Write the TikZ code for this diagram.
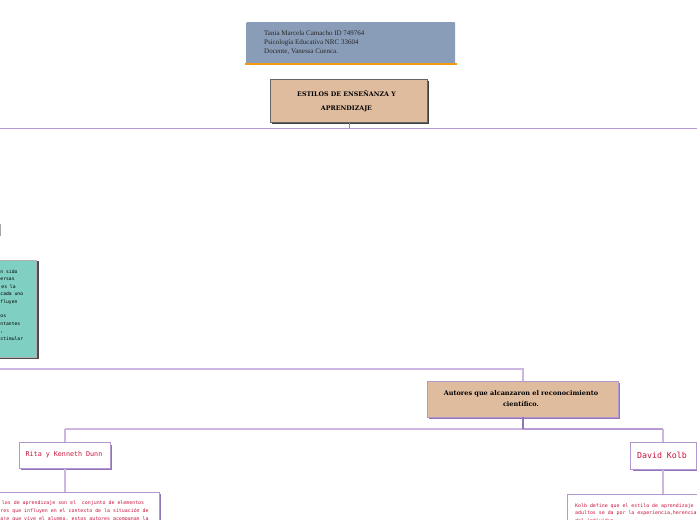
\documentclass[tikz,border=0pt]{standalone}
\usepackage{fontspec}
\setmainfont{Liberation Serif}
\setmonofont{DejaVu Sans Mono}
\newfontfamily\slab{DejaVu Serif}
\definecolor{hdrblue}{HTML}{8A9DB8}
\definecolor{hdrorange}{HTML}{F59B12}
\definecolor{tan}{HTML}{E0BC9F}
\definecolor{teal}{HTML}{7FCFC2}
\definecolor{linkp}{HTML}{B79AD2}
\definecolor{linkl}{HTML}{CDB6E0}
\definecolor{boxp}{HTML}{B297D0}
\definecolor{shadp}{HTML}{9274B8}
\definecolor{redtx}{HTML}{C8143C}
\tikzset{
  px/.style={x=1pt,y=-1pt},
  tanbox/.style={draw=#1,line width=.8pt,fill=tan,inner sep=0pt,anchor=north west},
  whitebox/.style={draw=boxp,line width=1pt,fill=white,inner sep=0pt,anchor=north west},
  link/.style={draw=linkp,line width=.8pt},
  linkpale/.style={draw=linkl,line width=1.1pt},
  monotx/.style={font=\ttfamily\fontsize{4.92}{7.6}\selectfont,align=left,inner sep=0pt,anchor=north west},
}
\begin{document}
\begin{tikzpicture}[px]
\useasboundingbox (0,0) rectangle (697,520);
\clip (0,0) rectangle (697,520);
\fill[white] (0,0) rectangle (697,520);
% header
\node[fill=hdrblue,rounded corners=1pt,minimum width=209pt,minimum height=42pt,inner sep=0pt,anchor=north west] (hdr) at (246,22) {};
\draw[hdrorange,line width=2.8pt] (245,64) -- (457,64);
\node[font=\fontsize{7}{9.2}\selectfont,align=left,inner sep=0pt,anchor=north west,text=black!85] (hdrtx) at (264,30.5) {Tania Marcela Camacho ID 749764\\Psicología Educativa NRC 33604\\Docente, Vanessa Cuenca.};
% hubs
\coordinate (hubL) at (0,128);
\coordinate (hubR) at (697,128);
\coordinate (hubT) at (349,128);
\draw[link] (hubL) -- (hubR);
% title
\fill[black!75] (272,81) rectangle (428.5,124);
\node[tanbox=black!60,minimum width=157pt,minimum height=43pt] (title) at (270,79) {};
\node[font=\slab\bfseries\fontsize{6.3}{13.2}\selectfont,align=center,inner sep=0pt] (titletx) at (346.5,101.2) {ESTILOS DE ENSEÑANZA Y\\APRENDIZAJE};
\draw[draw=black!45,line width=1pt] (title.south -| hubT) -- (hubT);
% left stub
\fill[black!35] (0,224) rectangle (1,236);
% teal box
\fill[black!70] (0,261) rectangle (38.5,359);
\node[draw=black!30,line width=.7pt,fill=teal,minimum width=37.5pt,minimum height=97pt,inner sep=0pt,anchor=north east] (teal) at (37,259.5) {};
\node[monotx,font=\ttfamily\fontsize{4.7}{7.45}\selectfont] (tealtx) at (0.3,269.5) {n sido\\ersas\\\hspace*{1pt}es la\\cada uno\\fluyen\\[7.45pt]os\\ntantes\\,\\stimular};
% authors
\coordinate (leftA) at (0,369);
\coordinate (turnA) at (523,369);
\draw[linkpale] (leftA) -- (turnA) -- (523,381);
\fill[shadp] (429,383) rectangle (620,419);
\node[tanbox=boxp,minimum width=191pt,minimum height=36pt] (auth) at (427,381) {};
\node[font=\slab\bfseries\fontsize{6.5}{10.8}\selectfont,align=center,inner sep=0pt] (authtx) at (521,398.2) {Autores que alcanzaron el reconocimiento\\científico.};
% branch
\coordinate (br) at (523,429);
\coordinate (brL) at (65,429);
\coordinate (brR) at (663,429);
\draw[linkpale] (brL) -- (br);
\draw[draw=linkp,line width=1.1pt] (br) -- (brR);
\draw[draw=shadp,line width=1.3pt] (523,417) -- (br);
\draw[linkpale] (brL) -- (65,442);
\draw[linkpale] (brR) -- (663,442);
% Rita
\fill[shadp] (20.5,444.5) rectangle (112,470);
\node[whitebox,minimum width=91pt,minimum height=26pt] (rita) at (18.5,442) {};
\node[font=\ttfamily\fontsize{6.7}{8}\selectfont,text=redtx,inner sep=0pt] (ritatx) at (64,455) {Rita y Kenneth Dunn};
% David
\fill[shadp] (632.5,444.5) rectangle (697,471);
\node[whitebox,minimum width=66pt,minimum height=26.5pt] (david) at (630,442) {};
\node[font=\ttfamily\fontsize{8.3}{9}\selectfont,text=redtx,inner sep=0pt] (davidtx) at (662,455) {David Kolb};
% lower text boxes
\draw[linkpale] (rita.south -| brL) -- (65,492);
\draw[linkpale] (david.south -| brR) -- (663,494);
\fill[shadp] (0,494) rectangle (161,522);
\node[whitebox,minimum width=161pt,minimum height=32pt,anchor=north east] (ritab) at (159.5,492) {};
\node[monotx,text=redtx] (ritabtx) at (0.3,501) {\hspace*{1.5pt}los de aprendizaje son el\ \ conjunto de elementos\\res que influyen en el contexto de la situación de\\aje que vive el alumno, estos autores acompanan la};
\node[whitebox,minimum width=135pt,minimum height=32pt] (davidb) at (567,494) {};
\node[monotx,text=redtx] (davidbtx) at (575,503.3) {Kolb define que el estilo de aprendizaje\\adultos se da por la experiencia,herencia\\del individuo};
\end{tikzpicture}
\end{document}
